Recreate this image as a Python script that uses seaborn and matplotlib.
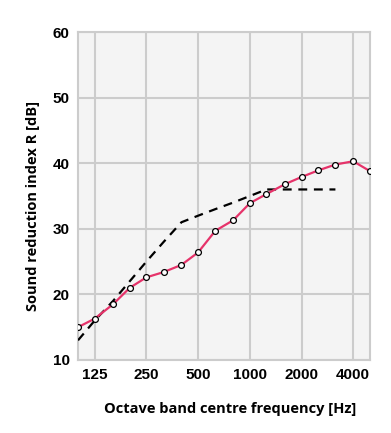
import matplotlib
matplotlib.use("Agg")
import matplotlib.pyplot as plt
import seaborn as sns
import pandas as pd
from matplotlib.ticker import FixedLocator, NullLocator, FixedFormatter

freqs = [100, 125, 160, 200, 250, 315, 400, 500, 630, 800, 1000, 1250,
         1600, 2000, 2500, 3150, 4000, 5000]
measured = [15.0, 16.3, 18.5, 21.0, 22.6, 23.4, 24.5, 26.4, 29.7, 31.3,
            33.9, 35.3, 36.8, 37.9, 38.9, 39.8, 40.3, 38.8]
ref_freqs = [100, 125, 160, 200, 250, 315, 400, 500, 630, 800, 1000, 1250,
             1600, 2000, 2500, 3150]
reference = [13, 16, 19, 22, 25, 28, 31, 32, 33, 34, 35, 36, 36, 36, 36, 36]
xticks = [125, 250, 500, 1000, 2000, 4000]
xtick_labels = ["125", "250", "500", "1000", "2000", "4000"]
yticks = [10, 20, 30, 40, 50, 60]

df_m = pd.DataFrame({"f": freqs, "R": measured})
df_r = pd.DataFrame({"f": ref_freqs, "R": reference})

sns.set_style("white")
plt.rcParams["font.family"] = ["Liberation Sans", "DejaVu Sans"]
plt.rcParams["text.color"] = "black"
plt.rcParams["axes.labelcolor"] = "black"
plt.rcParams["xtick.color"] = "black"
plt.rcParams["ytick.color"] = "black"

fig = plt.figure(figsize=(3.91, 4.33), dpi=100)
ax = fig.add_axes([0.1995, 0.1686, 0.7465, 0.7574])
ax.set_facecolor("#f4f4f4")

sns.lineplot(data=df_r, x="f", y="R", ax=ax, color="black", lw=1.6,
             linestyle=(0, (4, 3)), zorder=3)
sns.lineplot(data=df_m, x="f", y="R", ax=ax, color="#e6336a", lw=1.6,
             marker="o", markersize=4.2, markerfacecolor="white",
             markeredgecolor="black", markeredgewidth=0.9, zorder=4)

ax.set_xscale("log")
ax.set_xlim(100, 5000)
ax.set_ylim(10, 60)
ax.xaxis.set_major_locator(FixedLocator(xticks))
ax.xaxis.set_major_formatter(FixedFormatter(xtick_labels))
ax.xaxis.set_minor_locator(NullLocator())
ax.set_yticks(yticks)

ax.grid(True, color="#cccccc", lw=1.5)
ax.set_axisbelow(True)
for s in ax.spines.values():
    s.set_color("#cccccc")
    s.set_linewidth(1.5)

ax.tick_params(axis="both", length=0, labelsize=11, pad=6,
               labelcolor="black")
for lab in ax.get_xticklabels() + ax.get_yticklabels():
    lab.set_fontweight("bold")

ax.set_xlabel("Octave band centre frequency [Hz]", fontsize=10.5,
              fontweight="bold", family=["Open Sans", "DejaVu Sans"],
              color="black")
ax.set_ylabel("Sound reduction index R [dB]", fontsize=10.5,
              fontweight="bold", family=["Open Sans", "DejaVu Sans"],
              color="black")
ax.xaxis.set_label_coords(0.52, -0.128)
ax.yaxis.set_label_coords(-0.13, 0.47)

fig.savefig("out.png", dpi=100)
